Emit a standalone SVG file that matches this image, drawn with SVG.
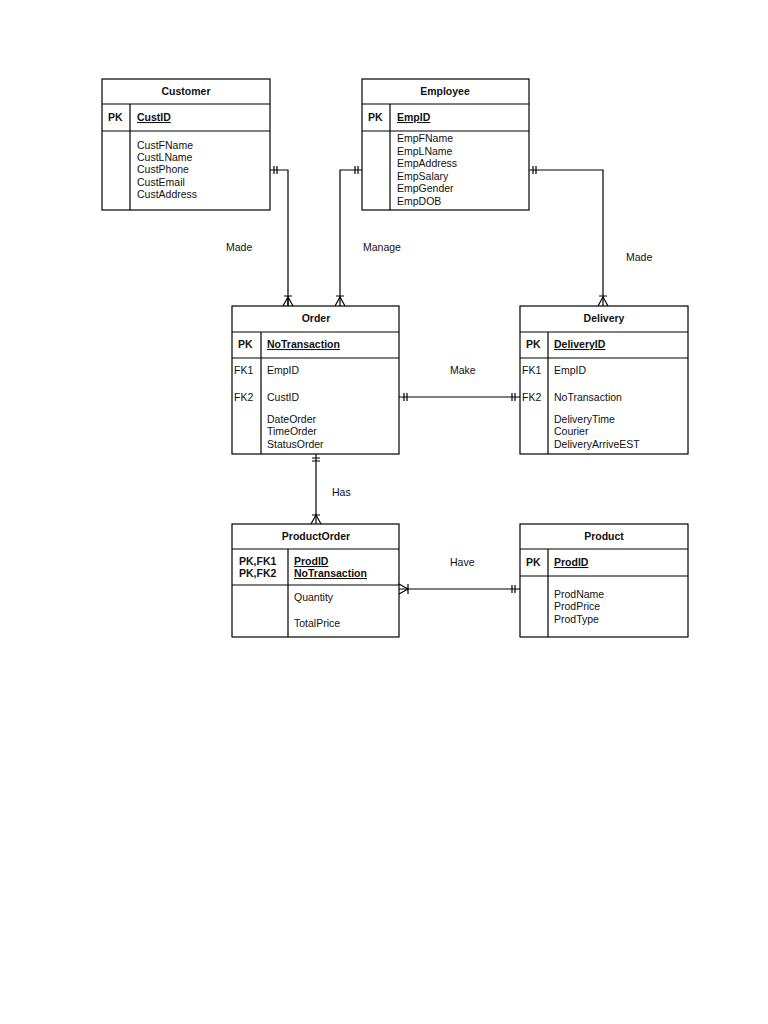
<svg xmlns="http://www.w3.org/2000/svg" width="768" height="1024" viewBox="0 0 768 1024">
<style>
.b{fill:#fff;stroke:#000;stroke-width:1.2}
.l{stroke:#000;stroke-width:1.2;fill:none}
text{font-family:"Liberation Sans",Arial,sans-serif;font-size:10.5px;fill:#111}
.t{font-weight:bold;text-anchor:middle}
.k{font-weight:bold}
.u{font-weight:bold;text-decoration:underline}
</style>
<rect width="768" height="1024" fill="#fff"/>
<g id="customer">
<rect class="b" x="102" y="79" width="168" height="131"/>
<path class="l" d="M102 104H270M102 131H270M130 104V210"/>
<text class="t" x="186" y="95">Customer</text>
<text class="k" x="108" y="121">PK</text><text class="u" x="137" y="121">CustID</text>
<text x="137" y="149">CustFName</text><text x="137" y="161">CustLName</text><text x="137" y="173">CustPhone</text><text x="137" y="186">CustEmail</text><text x="137" y="198">CustAddress</text>
</g>
<g id="employee">
<rect class="b" x="362" y="79" width="167" height="131"/>
<path class="l" d="M362 104H529M362 131H529M390 104V210"/>
<text class="t" x="445" y="95">Employee</text>
<text class="k" x="368" y="121">PK</text><text class="u" x="397" y="121">EmpID</text>
<text x="397" y="142">EmpFName</text><text x="397" y="155">EmpLName</text><text x="397" y="167">EmpAddress</text><text x="397" y="180">EmpSalary</text><text x="397" y="192">EmpGender</text><text x="397" y="205">EmpDOB</text>
</g>
<g id="order">
<rect class="b" x="232" y="306" width="167" height="148"/>
<path class="l" d="M232 332H399M232 358H399M261 332V454"/>
<text class="t" x="316" y="322">Order</text>
<text class="k" x="238" y="348">PK</text><text class="u" x="267" y="348">NoTransaction</text>
<text x="234" y="374">FK1</text><text x="267" y="374">EmpID</text>
<text x="234" y="401">FK2</text><text x="267" y="401">CustID</text>
<text x="267" y="423">DateOrder</text><text x="267" y="435">TimeOrder</text><text x="267" y="448">StatusOrder</text>
</g>
<g id="delivery">
<rect class="b" x="520" y="306" width="168" height="148"/>
<path class="l" d="M520 332H688M520 358H688M548 332V454"/>
<text class="t" x="604" y="322">Delivery</text>
<text class="k" x="526" y="348">PK</text><text class="u" x="554" y="348">DeliveryID</text>
<text x="522" y="374">FK1</text><text x="554" y="374">EmpID</text>
<text x="522" y="401">FK2</text><text x="554" y="401">NoTransaction</text>
<text x="554" y="423">DeliveryTime</text><text x="554" y="435">Courier</text><text x="554" y="448">DeliveryArriveEST</text>
</g>
<g id="productorder">
<rect class="b" x="232" y="524" width="167" height="113"/>
<path class="l" d="M232 549H399M232 585H399M288 549V637"/>
<text class="t" x="316" y="540">ProductOrder</text>
<text class="k" x="239" y="565">PK,FK1</text><text class="k" x="239" y="577">PK,FK2</text>
<text class="u" x="294" y="565">ProdID</text><text class="u" x="294" y="577">NoTransaction</text>
<text x="294" y="601">Quantity</text><text x="294" y="627">TotalPrice</text>
</g>
<g id="product">
<rect class="b" x="520" y="524" width="168" height="113"/>
<path class="l" d="M520 549H688M520 576H688M548 576V637M548 549V576"/>
<text class="t" x="604" y="540">Product</text>
<text class="k" x="526" y="566">PK</text><text class="u" x="554" y="566">ProdID</text>
<text x="554" y="598">ProdName</text><text x="554" y="610">ProdPrice</text><text x="554" y="623">ProdType</text>
</g>
<g id="connectors">
<path class="l" d="M270 170H288V306"/>
<path class="l" d="M274 166V174M277 166V174M284 296H292M283 306L288 297L293 306M288 297V306"/>
<path class="l" d="M362 170H340V306"/>
<path class="l" d="M355 166V174M358 166V174M336 296H344M335 306L340 297L345 306"/>
<path class="l" d="M529 170H603V306"/>
<path class="l" d="M533 166V174M536 166V174M599 296H607M598 306L603 297L608 306"/>
<path class="l" d="M399 397H520"/>
<path class="l" d="M404 393V401M407 393V401M512 393V401M515 393V401"/>
<path class="l" d="M316 454V524"/>
<path class="l" d="M312 458H320M312 461H320M312 515H320M311 524L316 515L321 524"/>
<path class="l" d="M399 589H520"/>
<path class="l" d="M399 584L408 589L399 594M408 584V594M512 585V593M515 585V593"/>
<text x="226" y="251">Made</text>
<text x="363" y="251">Manage</text>
<text x="626" y="261">Made</text>
<text x="450" y="374">Make</text>
<text x="332" y="496">Has</text>
<text x="450" y="566">Have</text>
</g>
</svg>
